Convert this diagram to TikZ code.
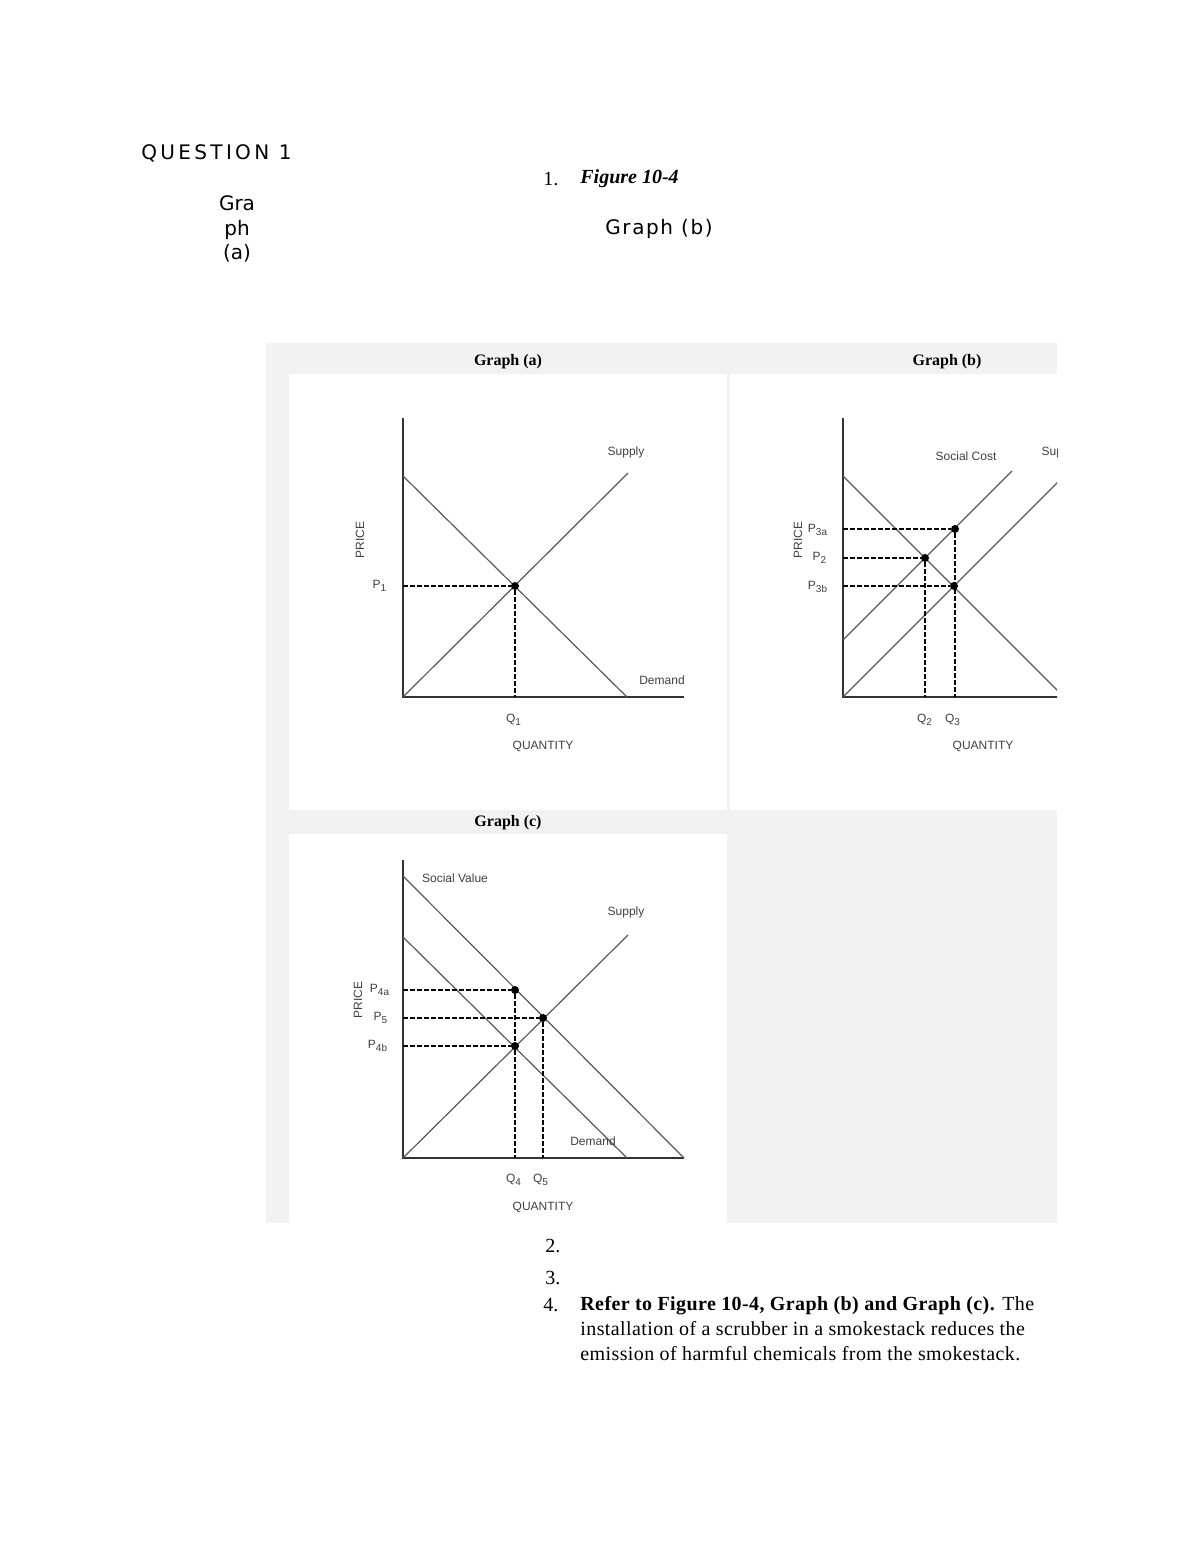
\documentclass[tikz,border=0pt]{standalone}
\usepackage{fontspec}
\setmainfont{Liberation Serif}
\newfontfamily\vsans{DejaVu Sans}
\newfontfamily\asans{Liberation Sans}
\newfontfamily\vsanswide[LetterSpace=8]{DejaVu Sans}
\newfontfamily\serifwide[LetterSpace=2]{Liberation Serif}
\begin{document}
\begin{tikzpicture}[x=0.5pt,y=-0.5pt,
  curve/.style={draw=black!65,line width=0.6pt},
  axis/.style={draw=black!80,line width=0.9pt},
  guide/.style={draw=black,dashed,line width=0.8pt,dash pattern=on 2.5pt off 1pt},
  dot/.style={circle,fill=black,inner sep=0pt,minimum size=4pt},
  lab/.style={font=\asans\fontsize{6}{7}\selectfont,text=black!75,inner sep=1pt},
  ttl/.style={font=\bfseries\fontsize{8}{9}\selectfont},
  body/.style={font=\fontsize{10}{12}\selectfont,anchor=west,inner sep=0pt}]
\useasboundingbox (0,0) rectangle (1200,1553);
\fill[white] (0,0) rectangle (1200,1553);
% top texts
\node[anchor=west,inner sep=0pt,font=\vsans\fontsize{10}{12}\selectfont] (q) at (141,153) {Q\,U\,E\,S\,T\,I\,O\,N\, 1};
\node[align=center,inner sep=0pt,font=\vsans\fontsize{10}{12.2}\selectfont] (ga) at (237,229) {Gra\\ph\\(a)};
\node[body] (n1) at (543,179) {1.};
\node[body,font=\bfseries\itshape\fontsize{10}{12}\selectfont] (fig) at (580,179) {Figure 10-4};
\node[anchor=west,inner sep=0pt,font=\vsanswide\fontsize{10}{12}\selectfont] (gb) at (605,229) {Graph (b)};
% panels
\fill[black!5] (266,343) rectangle (1057,1223);
\fill[white] (289,374) rectangle (727,810);
\fill[white] (730,374) rectangle (1057,810);
\fill[white] (289,834) rectangle (727,1223);
\node[ttl] (ta) at (508,362) {Graph (a)};
\node[ttl] (tb) at (947,362) {Graph (b)};
\node[ttl] (tc) at (508,823) {Graph (c)};
% Graph (a)
\coordinate (ao) at (403,697);
\draw[axis] (403,418) -- (ao) -- (684,697);
\draw[curve] (403,476) -- (627,697);
\draw[curve] (ao) -- (628,473);
\node[dot] (ae) at (515,586) {};
\coordinate (ay) at (403,586); \coordinate (ax) at (515,697);
\draw[guide] (ay) -- (ae) -- (ax);
\node[lab] (ap1) at (380,586) {P\textsubscript{1}};
\node[lab] (aq1) at (514,720) {Q\textsubscript{1}};
\node[lab] (aqu) at (543,746) {QUANTITY};
\node[lab,rotate=90] (apr) at (360,540) {PRICE};
\node[lab] (asu) at (626,452) {Supply};
\node[lab] (ade) at (662,680) {Demand};
% Graph (b)
\begin{scope}
\clip (730,374) rectangle (1057,810);
\draw[axis] (843,418) -- (843,697) -- (1060,697);
\draw[curve] (843,476) -- (1070,703);
\draw[curve] (843,697) -- (1070,470);
\draw[curve] (843,640) -- (1012,471);
\node[dot] (b3a) at (955,529) {};
\node[dot] (b2) at (925,558) {};
\node[dot] (b3b) at (954,586) {};
\draw[guide] (843,529) -- (b3a) -- (955,697);
\draw[guide] (843,558) -- (b2) -- (925,697);
\draw[guide] (843,586) -- (b3b);
\node[lab] (bsu) at (1060,452) {Supply};
\end{scope}
\node[lab] (bp3a) at (818,530) {P\textsubscript{3a}};
\node[lab] (bp2) at (820,558) {P\textsubscript{2}};
\node[lab] (bp3b) at (818,587) {P\textsubscript{3b}};
\node[lab] (bq2) at (925,720) {Q\textsubscript{2}};
\node[lab] (bq3) at (953,720) {Q\textsubscript{3}};
\node[lab] (bqu) at (983,746) {QUANTITY};
\node[lab,rotate=90] (bpr) at (798,540) {PRICE};
\node[lab] (bsc) at (966,456) {Social Cost};
% Graph (c)
\draw[axis] (403,860) -- (403,1158) -- (684,1158);
\draw[curve] (403,876) -- (684,1158);
\draw[curve] (403,937) -- (627,1158);
\draw[curve] (403,1158) -- (628,935);
\node[dot] (c4a) at (515,990) {};
\node[dot] (c5) at (543,1018) {};
\node[dot] (c4b) at (515,1046) {};
\draw[guide] (403,990) -- (c4a) -- (515,1158);
\draw[guide] (403,1018) -- (c5) -- (543,1158);
\draw[guide] (403,1046) -- (c4b);
\node[lab] (cp4a) at (380,990) {P\textsubscript{4a}};
\node[lab] (cp5) at (381,1018) {P\textsubscript{5}};
\node[lab] (cp4b) at (378,1046) {P\textsubscript{4b}};
\node[lab] (cq4) at (514,1180) {Q\textsubscript{4}};
\node[lab] (cq5) at (541,1180) {Q\textsubscript{5}};
\node[lab] (cqu) at (543,1207) {QUANTITY};
\node[lab,rotate=90] (cpr) at (358,1000) {PRICE};
\node[lab] (csv) at (455,878) {Social Value};
\node[lab] (csu) at (626,912) {Supply};
\node[lab] (cde) at (593,1141) {Demand};
% bottom text
\node[body] (n2) at (545,1246) {2.};
\node[body] (n3) at (545,1278) {3.};
\node[body] (n4) at (543,1305) {4.};
\node[body,anchor=north west,align=left,font=\serifwide\fontsize{10}{12.5}\selectfont] (t4) at (580,1296) {\textbf{Refer to Figure 10-4, Graph (b) and Graph (c).} The\\installation of a scrubber in a smokestack reduces the\\emission of harmful chemicals from the smokestack.};
\end{tikzpicture}
\end{document}
